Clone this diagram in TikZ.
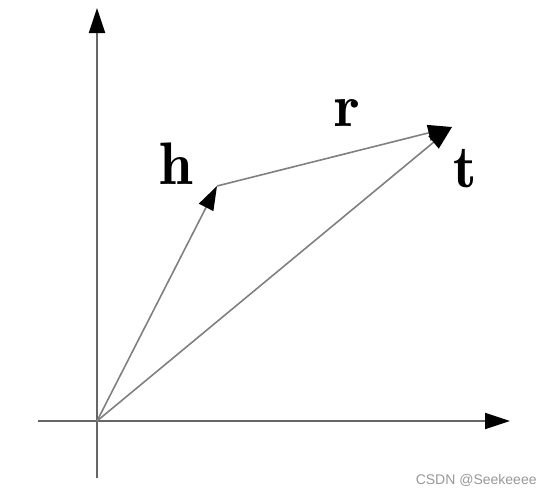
\documentclass[tikz,border=0pt]{standalone}
\usepackage{fontspec}
\newfontfamily\markfont{Liberation Sans}
\usetikzlibrary{positioning,arrows.meta}

\begin{document}
\begin{tikzpicture}[x=0.5pt,y=-0.5pt]
	\tikzstyle{axis}=[line width=1.1pt, draw=black!60, -{Triangle[length=12.5pt,width=8pt,color=black]}]
	\tikzstyle{vec}=[line width=0.8pt, draw=black!50, -{Triangle[length=12pt,width=8pt,color=black]}]
	\tikzstyle{label}=[font=\fontsize{30}{36}\selectfont, inner sep=0pt]
	\useasboundingbox[fill=white] (0,0) rectangle (552,494);
	\coordinate (O) at (97,421);
	\coordinate (xstart) at (38,421);
	\coordinate (xend) at (510,421);
	\coordinate (ystart) at (97,478);
	\coordinate (yend) at (97,8);
	\coordinate (H) at (217,186);
	\coordinate (T) at (452,127);
	
	\draw[axis] (xstart) -- (xend);
	\draw[axis] (ystart) -- (yend);
	\draw[vec] (O) -- (H);
	\draw[vec] (O) -- (T);
	\draw[vec] (H) -- (T);
	
	\node (hlabel) [label] at (176,164) {$\mathbf{h}$};
	\node (rlabel) [label] at (347,113) {$\mathbf{r}$};
	\node (tlabel) [label] at (465,169) {$\mathbf{t}$};
	\node (mark) [font=\markfont\fontsize{7}{9}\selectfont, text=black!40, anchor=east, inner sep=0pt] at (537,480) {CSDN @Seekeeee};
\end{tikzpicture}
\end{document}
